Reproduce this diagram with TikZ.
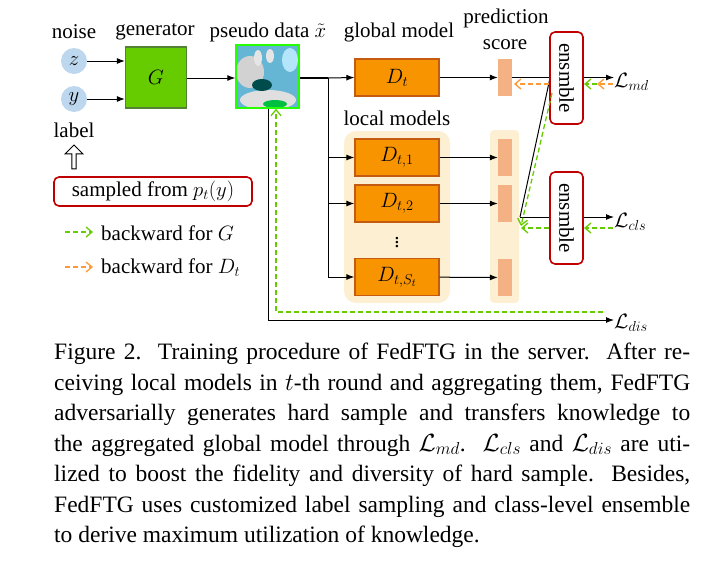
\documentclass[tikz,border=0pt]{standalone}
\usepackage{fontspec}
\setmainfont{Liberation Serif}
\usepackage{amsmath}
\usetikzlibrary{arrows.meta,shapes.arrows}
\definecolor{gfill}{HTML}{66CC00}
\definecolor{gdraw}{HTML}{548235}
\definecolor{ofill}{HTML}{F79400}
\definecolor{odraw}{HTML}{C55A11}
\definecolor{bar}{HTML}{F4B183}
\definecolor{ybg}{HTML}{FDEFD2}
\definecolor{cblue}{HTML}{BDD7EE}
\definecolor{rbox}{HTML}{C00000}
\definecolor{gdash}{HTML}{66CC00}
\definecolor{odash}{HTML}{FF9933}
\begin{document}
\begin{tikzpicture}[x=1pt,y=-1pt,
  lbl/.style={font=\fontsize{21}{24}\selectfont,inner sep=0pt},
  circ/.style={circle,fill=cblue,minimum size=26pt,inner sep=0pt,font=\fontsize{21}{24}\selectfont},
  dbox/.style={draw=odraw,fill=ofill,line width=1.2pt,minimum width=84pt,minimum height=37pt,inner sep=0pt,font=\fontsize{21}{24}\selectfont},
  sbar/.style={fill=bar,minimum width=14pt,minimum height=37pt,inner sep=0pt},
  ens/.style={draw=rbox,fill=white,line width=1.6pt,rounded corners=5pt,minimum width=92pt,minimum height=33pt,rotate=-90,font=\fontsize{21}{24}\selectfont,inner sep=0pt},
  arr/.style={-{Latex[length=8pt,width=6pt]},line width=1pt},
  garr/.style={-{Straight Barb[length=6pt,width=10pt]},gdash,dash pattern=on 5pt off 3pt,line width=1.3pt},
  oarr/.style={-{Straight Barb[length=6pt,width=10pt]},odash,dash pattern=on 5pt off 3pt,line width=1.3pt}]
\useasboundingbox (0,0) rectangle (707,571);
% top labels
\node[lbl] (tnoise) at (74,32) {noise};
\node[lbl] (tgen) at (155,32) {generator};
\node[lbl] (tpd) at (268,32) {pseudo data $\tilde{x}$};
\node[lbl] (tgm) at (399,32) {global model};
\node[lbl] (tpr) at (506,18) {prediction};
\node[lbl] (tsc) at (505,45) {score};
\node[lbl] (tlm) at (397,118) {local models};
% noise
\node[circ] (z) at (74,61) {$z$};
\node[circ] (y) at (74,99) {$y$};
\node[lbl] (tlabel) at (74,130) {label};
\node[single arrow,draw,shape border rotate=90,single arrow head extend=5pt,minimum height=24pt,minimum width=18pt,inner sep=1pt,line width=1pt] (up) at (74,158) {};
\node[draw=rbox,line width=1.6pt,rounded corners=5pt,minimum width=198pt,minimum height=29pt,lbl] (samp) at (153,191.5) {sampled from $p_t(y)$};
% legend
\coordinate (lg1) at (65,232); \coordinate (lg2) at (93,232);
\draw[garr] (lg1) -- (lg2);
\node[lbl,anchor=west] (lgt) at (101,233) {backward for $G$};
\coordinate (lo1) at (65,267); \coordinate (lo2) at (93,267);
\draw[oarr] (lo1) -- (lo2);
\node[lbl,anchor=west] (lot) at (101,268) {backward for $D_t$};
% generator
\node[draw=gdraw,fill=gfill,line width=1.2pt,minimum size=61pt,inner sep=0pt,lbl] (G) at (156,77.5) {$G$};
% image
\begin{scope}
\clip (236,45) rectangle (299,108);
\fill[cyan!55!teal!70] (236,45) rectangle (299,108);
\fill[gray!35] (250,72) ellipse (14pt and 16pt);
\fill[gray!25] (268,100) ellipse (28pt and 10pt);
\fill[teal!60!black] (262,85) ellipse (10pt and 6pt);
\fill[white!80!gray] (258,58) ellipse (4pt and 8pt);
\fill[white!80!gray] (270,56) ellipse (4pt and 7pt);
\fill[cyan!30] (290,60) ellipse (8pt and 12pt);
\fill[green!50!teal] (275,104) ellipse (12pt and 4pt);
\end{scope}
\node[draw=green!80!lime,line width=1.4pt,minimum size=63pt,inner sep=0pt] (img) at (267.5,76.5) {};
\draw[arr] (z) -- (G.west |- z);
\draw[arr] (y) -- (G.west |- y);
\draw[arr] (G.east |- 0,78) -- (img.west |- 0,78);
% models
\fill[ybg,rounded corners=12pt] (344,131) rectangle (450,303);
\fill[ybg,rounded corners=4pt] (490,130) rectangle (519,303);
\node[dbox] (Dt) at (397,77.5) {$D_t$};
\node[dbox] (D1) at (397,157.5) {$D_{t,1}$};
\node[dbox] (D2) at (397,203.5) {$D_{t,2}$};
\node[font=\fontsize{21}{24}\selectfont,inner sep=0pt] (dots) at (397,240) {$\vdots$};
\node[dbox] (DS) at (397,277) {$D_{t,S_t}$};
\coordinate (br) at (328,78);
\coordinate (brb) at (328,277);
\draw[line width=1.6pt] (img.east |- br) -- (br);
\draw[arr] (br) -- (Dt.west);
\draw[line width=1pt] (br) -- (brb);
\draw[arr] (br |- D1) -- (D1.west);
\draw[arr] (br |- D2) -- (D2.west);
\draw[arr] (brb) -- (DS.west);
\node[sbar] (s0) at (505,77.5) {};
\node[sbar] (s1) at (505,157.5) {};
\node[sbar] (s2) at (505,203.5) {};
\node[sbar] (s3) at (505,277.5) {};
\draw[arr] (Dt) -- (s0);
\draw[arr] (D1) -- (s1);
\draw[arr] (D2) -- (s2);
\draw[arr] (DS) -- (s3);
% ensemble lines
\coordinate (e1) at (550,78);
\coordinate (e2) at (520,217);
\node[lbl,anchor=west] (Lmd) at (614,82) {$\mathcal{L}_{md}$};
\node[lbl,anchor=west] (Lcls) at (614,222) {$\mathcal{L}_{cls}$};
\node[lbl,anchor=west] (Ldis) at (614,323) {$\mathcal{L}_{dis}$};
\draw[arr] (s0.east) -- (Lmd.west |- s0);
\draw[line width=1pt] (e1) -- (e2);
\draw[arr] (e2) -- (Lcls.west |- e2);
\node[ens] (en1) at (566.5,78) {ensmble};
\node[ens] (en2) at (566.5,218) {ensmble};
\draw[oarr] (549,84) -- (514,84);
\draw[garr] (613,84) -- (584,84);
\draw[oarr] (613,84) -- (597,84);
\draw[garr] (552,93) -- (521,226);
\draw[garr] (549,228) -- (521,228);
\draw[garr] (613,228) -- (584,228);
% dis loop
\coordinate (d1) at (268,320);
\draw[arr] (img.south -| d1) -- (d1) -- (Ldis.west |- d1);
\coordinate (g1) at (276,312);
\draw[garr] (603,312) -- (g1) -- (g1 |- img.south);
% caption
\node[anchor=north west,inner sep=0pt,text width=636pt,align=justify,font=\fontsize{23.5}{30.5}\selectfont] (cap) at (54,343) {Figure 2.\ \ Training procedure of FedFTG in the server.\ \ After re-\linebreak ceiving local models in $t$-th round and aggregating them, FedFTG\linebreak adversarially generates hard sample and transfers knowledge to\linebreak the aggregated global model through $\mathcal{L}_{md}$.\ \ $\mathcal{L}_{cls}$ and $\mathcal{L}_{dis}$ are uti-\linebreak lized to boost the fidelity and diversity of hard sample.\ \ Besides,\linebreak FedFTG uses customized label sampling and class-level ensemble\linebreak to derive maximum utilization of knowledge.};
\end{tikzpicture}
\end{document}
